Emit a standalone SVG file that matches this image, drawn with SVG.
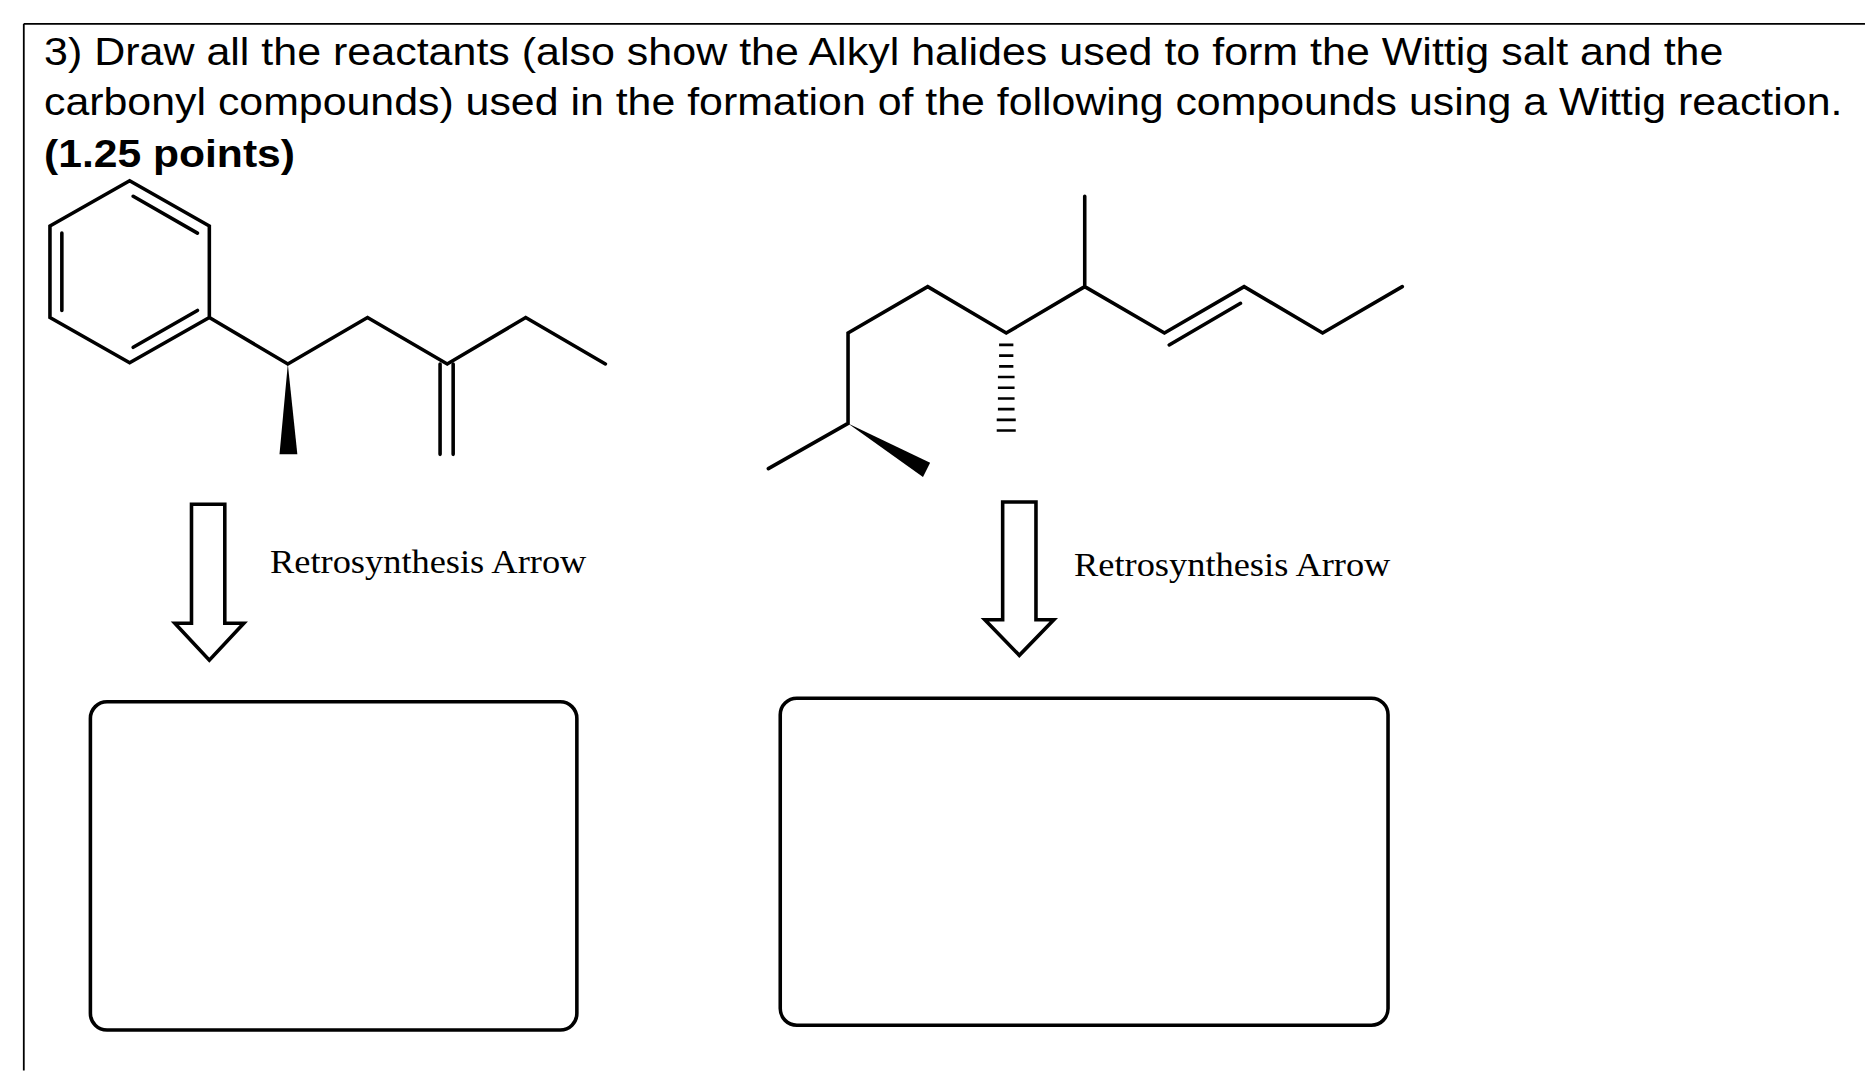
<svg xmlns="http://www.w3.org/2000/svg" width="1865" height="1071" viewBox="0 0 1865 1071">
<style>
.b{stroke:#000;stroke-width:3;fill:none;stroke-linecap:round}
.h{font-family:"Liberation Sans",Arial,sans-serif;font-size:33px}
.t{font-family:"Liberation Serif","Times New Roman",serif;font-size:29px}
.bx{fill:#fff;stroke:#000;stroke-width:3}
</style>
<rect width="1865" height="1071" fill="#fff"/>
<g transform="scale(1.1894)">
<g id="frame"><path d="M20,20H1568M20,20V900" stroke="#000" stroke-width="1.5" fill="none"/></g>
<g id="question">
<text class="h" x="37" y="55" textLength="1412" lengthAdjust="spacingAndGlyphs">3) Draw all the reactants (also show the Alkyl halides used to form the Wittig salt and the</text>
<text class="h" x="37" y="97" textLength="1512" lengthAdjust="spacingAndGlyphs">carbonyl compounds) used in the formation of the following compounds using a Wittig reaction.</text>
<text class="h" x="37" y="140" font-weight="bold" textLength="211" lengthAdjust="spacingAndGlyphs">(1.25 points)</text>
</g>
<g id="molecule1">
<path class="b" d="M109,152L176,190L176,267L109,305L42,267L42,190Z"/>
<path class="b" d="M112,165L166,196M52,196V261M112,292L166,261"/>
<path class="b" d="M176,267L242,306L309,267L376,306L442,267L509,306"/>
<path class="b" d="M370,306V382M381,306V382"/>
<polygon points="242,306 235,382 250,382" fill="#000"/>
</g>
<g id="molecule2">
<path class="b" d="M646,394L713,356L713,280L780,241L846,280L912,241L912,165M912,241L979,280L1046,241L1112,280L1179,241"/>
<path class="b" d="M983,290L1043,255"/>
<polygon points="713,356 782,389 776,401" fill="#000"/>
<path d="M840,290h12M840,299h12M840,308h12M839,317h14M839,326h14M839,335h14M839,344h14M838,353h16M838,362h16" stroke="#000" stroke-width="2.2"/>
</g>
<g id="connectors">
<polygon class="bx" points="161,424 189,424 189,524 205,524 176,555 147,524 161,524"/>
<polygon class="bx" points="843,422 871,422 871,521 886,521 857,551 828,521 843,521"/>
</g>
<g id="label1"><text class="t" x="227" y="482" textLength="266" lengthAdjust="spacingAndGlyphs">Retrosynthesis Arrow</text></g>
<g id="label2"><text class="t" x="903" y="484" textLength="266" lengthAdjust="spacingAndGlyphs">Retrosynthesis Arrow</text></g>
<g id="box1"><rect class="bx" x="76" y="590" width="409" height="276" rx="14"/></g>
<g id="box2"><rect class="bx" x="656" y="587" width="511" height="275" rx="14"/></g>
</g>
</svg>
